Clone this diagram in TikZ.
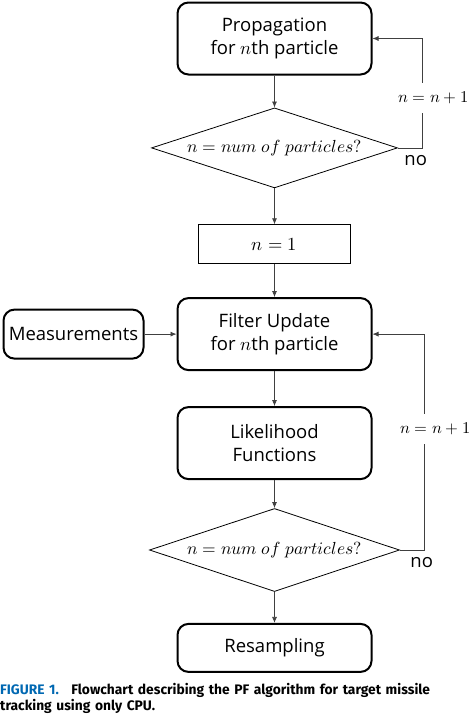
\documentclass[tikz,border=0pt]{standalone}
\usepackage{fontspec}
\usepackage{unicode-math}
\setmainfont{Open Sans}
\setmathfont{Latin Modern Math}
\newfontfamily\capfont{Fira Sans}
\usetikzlibrary{positioning, shapes.geometric, arrows.meta}
\definecolor{capblue}{RGB}{0,104,178}

\begin{document}
\begin{tikzpicture}[
        x=1pt, y=1pt,
        node distance=32pt,
        every node/.style={font=\fontsize{18.5}{23}\selectfont},
        proc/.style={draw, line width=2pt, rounded corners=11pt, align=center,
                     minimum width=194pt, minimum height=72pt, inner sep=4pt},
        decide/.style={draw, diamond, line width=0.8pt, aspect=3, inner sep=0pt,
                       minimum width=246pt, minimum height=80pt,
                       font=\fontsize{17.5}{20}\selectfont},
        plainbox/.style={draw, line width=0.8pt, minimum width=152pt,
                         minimum height=39pt},
        lbl/.style={fill=white, minimum height=30pt, inner sep=1pt,
                    font=\fontsize{16.5}{20}\selectfont},
        arr/.style={-{Latex[length=6pt,width=5pt]}, line width=0.7pt, draw=black!75}]

      \useasboundingbox (0,0) rectangle (474,-715);

      \node[proc] (prop) at (274.5,-38.5) {Propagation\\for $n$th particle};
      \node[decide, below=32pt of prop] (dec1) {$n = num~of~particles?$};
      \node[plainbox, below=36pt of dec1] (init) {$n = 1$};
      \node[proc, below=33pt of init] (upd) {Filter Update\\for $n$th particle};
      \node[proc, minimum width=140pt, minimum height=49pt, left=32pt of upd] (meas) {Measurements};
      \node[proc, below=35pt of upd] (lik) {Likelihood\\Functions};
      \node[decide, minimum width=250pt, minimum height=83pt, below=28pt of lik] (dec2) {$n = num~of~particles?$};
      \node[proc, minimum height=48pt, below=31pt of dec2] (res) {Resampling};

      \node[below right=4pt and 3pt of dec1.east] (no1) {no};
      \node[below right=4pt and 7pt of dec2.east] (no2) {no};

      \node[anchor=north west, text width=472pt, align=left, inner sep=0pt,
            font=\capfont\bfseries\fontsize{13.8}{16}\selectfont] (cap) at (0,-683)
            {\textcolor{capblue}{FIGURE 1.}\hspace{0.4em} Flowchart describing the PF algorithm for target missile tracking using only CPU.};

      \draw[arr] (prop) -- (dec1);
      \draw[arr] (dec1) -- (init);
      \draw[arr] (init) -- (upd);
      \draw[arr] (meas) -- (upd);
      \draw[arr] (upd) -- (lik);
      \draw[arr] (lik) -- (dec2);
      \draw[arr] (dec2) -- (res);
      \draw[arr] (dec1.east) -| node[lbl, pos=0.73, xshift=11pt] {$n = n + 1$}
                 ([xshift=50pt]prop.east) -- (prop.east);
      \draw[arr] (dec2.east) -| node[lbl, pos=0.78, xshift=11pt] {$n = n + 1$}
                 ([xshift=52pt]upd.east) -- (upd.east);
    \end{tikzpicture}
\end{document}
